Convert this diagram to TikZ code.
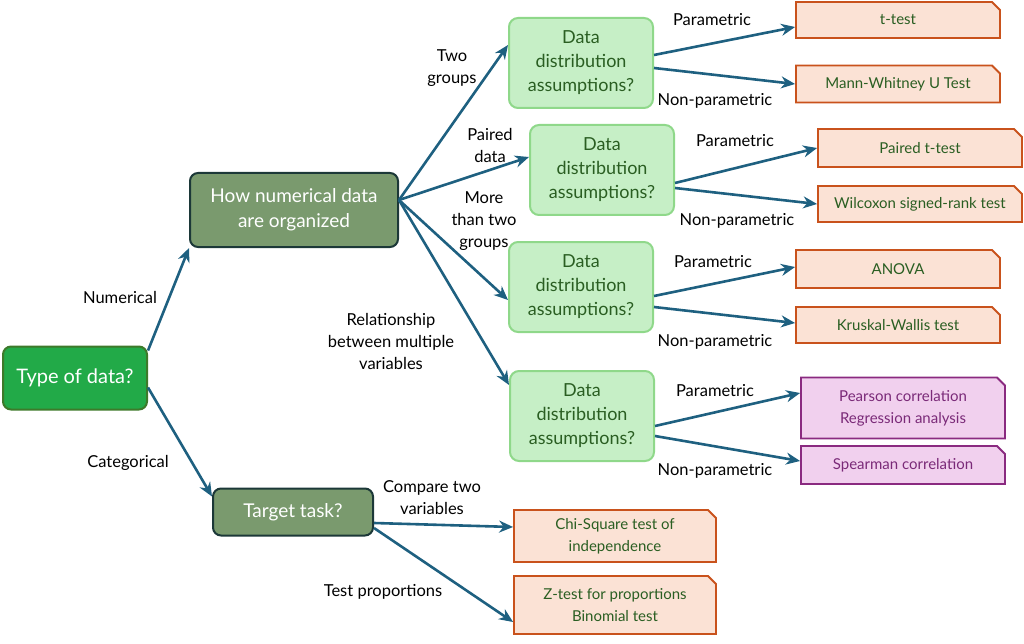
\documentclass[tikz,border=0pt]{standalone}
\usepackage{fontspec}
\setmainfont{Lato}
\usetikzlibrary{arrows.meta,shapes.misc}
\definecolor{typefill}{HTML}{22AA48}
\definecolor{typeline}{HTML}{3D7A2A}
\definecolor{howfill}{HTML}{7A9A6E}
\definecolor{howline}{HTML}{1C3838}
\definecolor{ddfill}{HTML}{C6EFC6}
\definecolor{ddline}{HTML}{8FD88A}
\definecolor{resfill}{HTML}{FBE2D5}
\definecolor{resline}{HTML}{C9521C}
\definecolor{purfill}{HTML}{F1D0EE}
\definecolor{purline}{HTML}{8A2A80}
\definecolor{arrcol}{HTML}{1E6080}
\definecolor{gtext}{HTML}{2A5E22}
\definecolor{ptext}{HTML}{7A2A78}
\begin{document}
\begin{tikzpicture}[x=1pt,y=-1pt,
  darkbox/.style={draw=howline,fill=howfill,line width=2pt,rounded corners=8pt,text=white,align=center,
    font=\fontsize{19}{25}\selectfont,inner sep=0pt},
  typebox/.style={draw=typeline,fill=typefill,line width=2pt,rounded corners=8pt,text=white,align=center,
    font=\fontsize{20}{25}\selectfont,inner sep=0pt,minimum width=144pt,minimum height=63pt},
  ddbox/.style={draw=ddline,fill=ddfill,line width=2pt,rounded corners=9pt,text=gtext,align=center,
    font=\fontsize{18}{24}\selectfont,inner sep=0pt,minimum width=144pt,minimum height=90pt},
  resbox/.style={chamfered rectangle,chamfered rectangle corners=north east,chamfered rectangle xsep=4pt,chamfered rectangle ysep=4pt,
    draw=resline,fill=resfill,line width=1.8pt,text=gtext,align=center,
    font=\fontsize{15}{22}\selectfont,inner sep=0pt,minimum width=204pt},
  purbox/.style={resbox,draw=purline,fill=purfill,text=ptext},
  lbl/.style={font=\fontsize{16.5}{22}\selectfont,align=center,text=black},
  arr/.style={draw=arrcol,line width=2.6pt,-{Stealth[length=14pt,width=12pt]}}]
\useasboundingbox (0,0) rectangle (1024,644);

% main nodes
\node[typebox] (type) at (75,378) {Type of data?};
\node[darkbox,minimum width=208pt,minimum height=74pt] (how) at (294,210) {How numerical data\\are organized};
\node[darkbox,minimum width=160pt,minimum height=47pt] (target) at (293,512) {Target task?};

% data distribution nodes
\node[ddbox] (dd1) at (581,63) {Data\\distribution\\assumptions?};
\node[ddbox] (dd2) at (602,170) {Data\\distribution\\assumptions?};
\node[ddbox] (dd3) at (581,287) {Data\\distribution\\assumptions?};
\node[ddbox] (dd4) at (582,416) {Data\\distribution\\assumptions?};

% results
\node[resbox,minimum height=36pt] (ttest) at (898,20) {t-test};
\node[resbox,minimum height=37pt] (mann) at (898,84) {Mann-Whitney U Test};
\node[resbox,minimum height=38pt] (paired) at (920,148) {Paired t-test};
\node[resbox,minimum height=36pt] (wilc) at (920,204) {Wilcoxon signed-rank test};
\node[resbox,minimum height=38pt] (anova) at (898,269) {ANOVA};
\node[resbox,minimum height=36pt] (krus) at (898,325) {Kruskal-Wallis test};
\node[purbox,minimum height=61pt] (pear) at (903,408) {Pearson correlation\\Regression analysis};
\node[purbox,minimum height=38pt] (spear) at (903,465) {Spearman correlation};
\node[resbox,minimum width=202pt,minimum height=52pt] (chi) at (615,536) {Chi-Square test of\\independence};
\node[resbox,minimum width=202pt,minimum height=58pt] (ztest) at (615,605) {Z-test for proportions\\Binomial test};

% connectors
\draw[arr] ([yshift=-5pt]type.north east) -- (how.south west);
\draw[arr] ([yshift=-42pt]type.north east) -- ([yshift=-9pt]target.north west);
\draw[arr] ([yshift=10pt]how.east) -- ([yshift=18pt]dd1.west);
\draw[arr] ([yshift=10pt]how.east) -- ([yshift=13pt]dd2.west);
\draw[arr] ([yshift=10pt]how.east) -- ([yshift=-13pt]dd3.west);
\draw[arr] ([yshift=10pt]how.east) -- ([yshift=31pt]dd4.west);

\draw[arr] ([yshift=8pt]dd1.east) -- ([yshift=-7pt]ttest.west);
\draw[arr] ([yshift=-5pt]dd1.east) -- (mann.west);
\draw[arr] ([yshift=-13pt]dd2.east) -- (paired.west);
\draw[arr] ([yshift=-18pt]dd2.east) -- (wilc.west);
\draw[arr] ([yshift=-9pt]dd3.east) -- ([yshift=2pt]anova.west);
\draw[arr] ([yshift=-20pt]dd3.east) -- ([yshift=2pt]krus.west);
\draw[arr] ([yshift=-10pt]dd4.east) -- ([yshift=15pt]pear.west);
\draw[arr] ([yshift=-20pt]dd4.east) -- ([yshift=4pt]spear.west);

\draw[arr] ([yshift=-11pt]target.east) -- ([yshift=9pt]chi.west);
\draw[arr] ([yshift=-16pt]target.east) -- ([yshift=-17pt]ztest.west);

% labels
\node[lbl] (lnum) at (120,297) {Numerical};
\node[lbl] (lcat) at (128,463) {Categorical};
\node[lbl] (ltwo) at (452,68) {Two\\groups};
\node[lbl] (lpaired) at (490,145) {Paired\\data};
\node[lbl] (lmore) at (484,221) {More\\than two\\groups};
\node[lbl] (lrel) at (391,341) {Relationship\\between multiple\\variables};
\node[lbl] (lp1) at (712,20) {Parametric};
\node[lbl] (ln1) at (715,101) {Non-parametric};
\node[lbl] (lp2) at (735,141) {Parametric};
\node[lbl] (ln2) at (737,221) {Non-parametric};
\node[lbl] (lp3) at (713,262) {Parametric};
\node[lbl] (ln3) at (715,342) {Non-parametric};
\node[lbl] (lp4) at (715,391) {Parametric};
\node[lbl] (ln4) at (715,471) {Non-parametric};
\node[lbl] (lcmp) at (432,498) {Compare two\\variables};
\node[lbl] (ltp) at (383,592) {Test proportions};
\end{tikzpicture}
\end{document}
